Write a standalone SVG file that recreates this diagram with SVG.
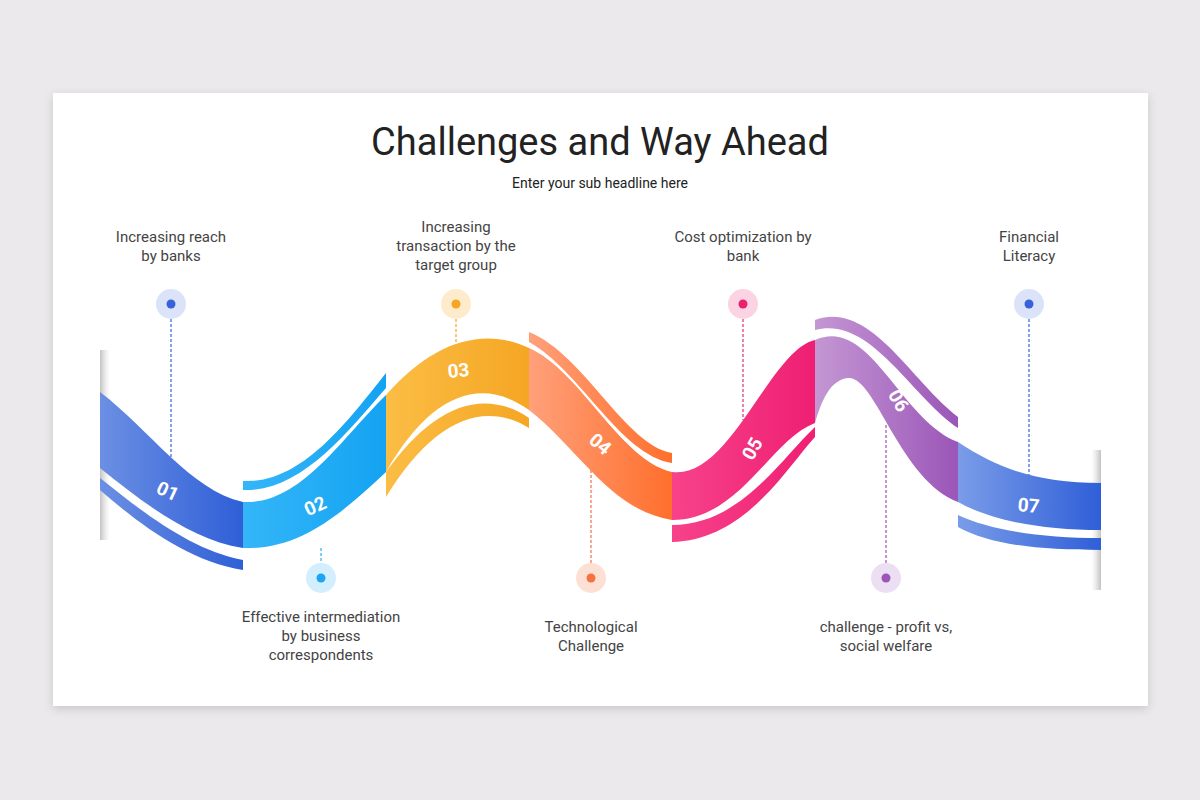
<svg xmlns="http://www.w3.org/2000/svg" width="1200" height="800" viewBox="0 0 1200 800">
<defs>
<filter id="sh" x="-5%" y="-5%" width="110%" height="115%"><feDropShadow dx="0" dy="3" stdDeviation="5" flood-color="#000" flood-opacity="0.15"/></filter>
<linearGradient id="g1" x1="0" x2="1"><stop offset="0" stop-color="#6b8fe3"/><stop offset="1" stop-color="#2f5fd8"/></linearGradient>
<linearGradient id="g2" x1="0" x2="1"><stop offset="0" stop-color="#34b6f8"/><stop offset="1" stop-color="#14a3f2"/></linearGradient>
<linearGradient id="g3" x1="0" x2="1"><stop offset="0" stop-color="#fbbd45"/><stop offset="1" stop-color="#f5a623"/></linearGradient>
<linearGradient id="g4" x1="0" x2="1"><stop offset="0" stop-color="#ffa07a"/><stop offset="1" stop-color="#ff6f2c"/></linearGradient>
<linearGradient id="g5" x1="0" x2="1"><stop offset="0" stop-color="#f7428a"/><stop offset="1" stop-color="#ef1f73"/></linearGradient>
<linearGradient id="g6" x1="0" x2="1"><stop offset="0" stop-color="#c497d3"/><stop offset="1" stop-color="#9b56b8"/></linearGradient>
<linearGradient id="g7" x1="0" x2="1"><stop offset="0" stop-color="#7a9ce8"/><stop offset="1" stop-color="#2f5fd8"/></linearGradient>
<linearGradient id="shL" x1="0" x2="1"><stop offset="0" stop-color="#999" stop-opacity="0.6"/><stop offset="1" stop-color="#ccc" stop-opacity="0"/></linearGradient>
<linearGradient id="shR" x1="1" x2="0"><stop offset="0" stop-color="#999" stop-opacity="0.6"/><stop offset="1" stop-color="#ccc" stop-opacity="0"/></linearGradient>
</defs>
<style>
.t{font-family:Roboto,"Liberation Sans",sans-serif;}
.lb{font-family:Roboto,"Liberation Sans",sans-serif;font-size:15px;fill:#444;text-anchor:middle;}
.num{font-family:Roboto,"Liberation Sans",sans-serif;font-size:19px;font-weight:bold;fill:#fff;text-anchor:middle;}
.dl{stroke-width:1.2;stroke-dasharray:3 2;fill:none;}
</style>
<rect width="1200" height="800" fill="#ebe9eb"/>
<rect x="53" y="93" width="1095" height="613" fill="#fff" filter="url(#sh)"/>
<text class="t" x="600" y="155" font-size="38" fill="#222" text-anchor="middle">Challenges and Way Ahead</text>
<text class="t" x="600" y="188" font-size="14" fill="#222" text-anchor="middle">Enter your sub headline here</text>
<rect x="100" y="350" width="10" height="190" fill="url(#shL)"/>
<rect x="1091" y="450" width="10" height="140" fill="url(#shR)"/>
<g id="connectors">
<line class="dl" x1="171" y1="304" x2="171" y2="460" stroke="#3a62d8"/>
<line class="dl" x1="456" y1="304" x2="456" y2="342" stroke="#f5a623"/>
<line class="dl" x1="743" y1="304" x2="743" y2="420" stroke="#e0306f"/>
<line class="dl" x1="1029" y1="304" x2="1029" y2="478" stroke="#3a62d8"/>
<line class="dl" x1="321" y1="548" x2="321" y2="578" stroke="#29aef5"/>
<line class="dl" x1="591" y1="470" x2="591" y2="578" stroke="#f0704a"/>
<line class="dl" x1="886" y1="425" x2="886" y2="578" stroke="#9b56b8"/>
</g>
<g id="seg1"><path d="M100,392 C150,430 190,490 243,502 L243,548 C190,540 140,500 100,468 Z" fill="url(#g1)"/><path d="M100,478 C140,510 190,550 243,560 L243,570 C190,562 140,525 100,490 Z" fill="url(#g1)"/><text class="num" transform="translate(165,497) rotate(25)">01</text></g>
<g id="seg2"><path d="M243,502 C300,505 340,440 386,395 L386,472 C340,515 300,550 243,548 Z" fill="url(#g2)"/><path d="M243,481 C300,484 345,425 386,373 L386,388 C345,435 300,492 243,490 Z" fill="url(#g2)"/><text class="num" transform="translate(318,512) rotate(-25)">02</text></g>
<g id="seg3"><path d="M386,395 C430,345 480,325 529,348 L529,410 C480,375 430,395 386,472 Z" fill="url(#g3)"/><path d="M386,472 C430,410 480,385 529,418 L529,428 C480,398 430,425 386,497 Z" fill="url(#g3)"/><text class="num" transform="translate(459,377) rotate(-5)">03</text></g>
<g id="seg4"><path d="M529,348 C580,370 620,460 672,472 L672,520 C610,510 580,450 529,410 Z" fill="url(#g4)"/><path d="M529,332 C585,355 625,445 672,453 L672,463 C620,455 580,370 529,342 Z" fill="url(#g4)"/><text class="num" transform="translate(596,449) rotate(40)">04</text></g>
<g id="seg5"><path d="M672,472 C730,480 770,350 815,340 L815,423 C770,440 740,520 672,520 Z" fill="url(#g5)"/><path d="M672,525 C740,525 780,460 815,427 L815,437 C785,470 745,540 672,542 Z" fill="url(#g5)"/><text class="num" transform="translate(758,452) rotate(-60)">05</text></g>
<g id="seg6"><path d="M815,340 C870,315 900,420 958,442 L958,502 C900,480 875,375 848,378 C830,380 822,400 815,423 Z" fill="url(#g6)"/><path d="M815,320 C870,300 910,380 958,417 L958,428 C910,395 870,315 815,330 Z" fill="url(#g6)"/><text class="num" transform="translate(893,404) rotate(60)">06</text></g>
<g id="seg7"><path d="M958,442 C1000,470 1040,483 1101,483 L1101,530 C1040,530 990,520 958,502 Z" fill="url(#g7)"/><path d="M958,515 C990,530 1040,538 1101,538 L1101,550 C1040,550 990,545 958,527 Z" fill="url(#g7)"/><text class="num" transform="translate(1028,512) rotate(5)">07</text></g>
<g id="dot1"><circle cx="171" cy="304" r="15" fill="#dbe3f8"/><circle cx="171" cy="304" r="4.5" fill="#3a62d8"/><text class="lb" x="171" y="242">Increasing reach</text><text class="lb" x="171" y="261">by banks</text></g>
<g id="dot3"><circle cx="456" cy="304" r="15" fill="#fdebcc"/><circle cx="456" cy="304" r="4.5" fill="#f5a623"/><text class="lb" x="456" y="232">Increasing</text><text class="lb" x="456" y="251">transaction by the</text><text class="lb" x="456" y="270">target group</text></g>
<g id="dot5"><circle cx="743" cy="304" r="15" fill="#fbd3e2"/><circle cx="743" cy="304" r="4.5" fill="#ea1f6e"/><text class="lb" x="743" y="242">Cost optimization by</text><text class="lb" x="743" y="261">bank</text></g>
<g id="dot7"><circle cx="1029" cy="304" r="15" fill="#dbe3f8"/><circle cx="1029" cy="304" r="4.5" fill="#3a62d8"/><text class="lb" x="1029" y="242">Financial</text><text class="lb" x="1029" y="261">Literacy</text></g>
<g id="dot2"><circle cx="321" cy="578" r="15" fill="#d3eefd"/><circle cx="321" cy="578" r="4.5" fill="#1ea5f2"/><text class="lb" x="321" y="622">Effective intermediation</text><text class="lb" x="321" y="641">by business</text><text class="lb" x="321" y="660">correspondents</text></g>
<g id="dot4"><circle cx="591" cy="578" r="15" fill="#fde0d4"/><circle cx="591" cy="578" r="4.5" fill="#f47440"/><text class="lb" x="591" y="632">Technological</text><text class="lb" x="591" y="651">Challenge</text></g>
<g id="dot6"><circle cx="886" cy="578" r="15" fill="#ecdff3"/><circle cx="886" cy="578" r="4.5" fill="#9b56b8"/><text class="lb" x="886" y="632">challenge - profit vs,</text><text class="lb" x="886" y="651">social welfare</text></g>
</svg>
